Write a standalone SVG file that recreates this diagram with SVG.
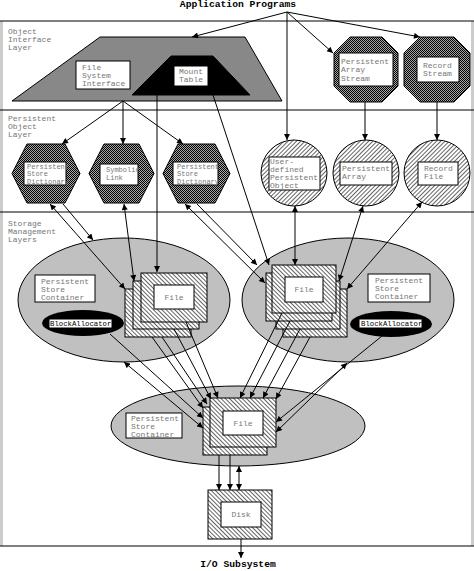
<svg xmlns="http://www.w3.org/2000/svg" width="474" height="571" viewBox="0 0 474 571">
<style>
text{font-family:"Liberation Mono","DejaVu Sans Mono",monospace;font-size:8px;fill:#777}
.b{fill:#000;font-weight:bold;font-size:9.7px}
.s{font-size:7px}
.k{fill:#000;font-size:7.3px}
.ln{stroke:#000;stroke-width:1;fill:none}
.wb{fill:#fff;stroke:#000;stroke-width:1}
.ch{fill:url(#check);stroke:#000;stroke-width:1}
.ht{fill:url(#hatchR);stroke:#000;stroke-width:1}
.hf{fill:url(#hatchL);stroke:#000;stroke-width:1}
.ell{fill:#c0c0c0;stroke:#000;stroke-width:1}
</style>
<defs>
<pattern id="check" width="2" height="2" patternUnits="userSpaceOnUse">
<rect width="2" height="2" fill="#a8a8a8"/>
<rect width="1" height="1" fill="#000"/>
<rect x="1" y="1" width="1" height="1" fill="#000"/>
</pattern>
<pattern id="hatchR" width="3" height="3" patternUnits="userSpaceOnUse" patternTransform="rotate(45)">
<rect width="3" height="3" fill="#fff"/>
<line x1="0.5" y1="0" x2="0.5" y2="3" stroke="#222" stroke-width="0.7"/>
</pattern>
<pattern id="hatchL" width="3" height="3" patternUnits="userSpaceOnUse" patternTransform="rotate(-45)">
<rect width="3" height="3" fill="#fff"/>
<line x1="0.5" y1="0" x2="0.5" y2="3" stroke="#222" stroke-width="0.7"/>
</pattern>
<marker id="ah" viewBox="0 0 10 10" refX="10" refY="5" markerWidth="7" markerHeight="6" markerUnits="userSpaceOnUse" orient="auto-start-reverse"><path d="M0,0 L10,5 L0,10 z" fill="#000"/></marker>
</defs>
<rect width="474" height="571" fill="#fff"/>

<g id="frame">
<line x1="1.5" y1="21" x2="1.5" y2="546" stroke="#ccc" stroke-width="3"/>
<line x1="472.5" y1="21" x2="472.5" y2="546" stroke="#ccc" stroke-width="3"/>
<line x1="0" y1="21" x2="474" y2="21" class="ln"/>
<line x1="0" y1="110" x2="474" y2="110" class="ln"/>
<line x1="0" y1="212" x2="474" y2="212" class="ln"/>
<line x1="0" y1="546" x2="474" y2="546" class="ln"/>
<text class="b" x="238" y="7" text-anchor="middle">Application Programs</text>
<text class="b" x="238" y="567" text-anchor="middle">I/O Subsystem</text>
<text x="8" y="34">Object</text><text x="8" y="42">Interface</text><text x="8" y="50">Layer</text>
<text x="8" y="121">Persistent</text><text x="8" y="129">Object</text><text x="8" y="137">Layer</text>
<text x="8" y="226">Storage</text><text x="8" y="234">Management</text><text x="8" y="242">Layers</text>
</g>

<g id="fsi">
<polygon points="100,37 245,37 282,101 12,101" fill="#888" stroke="#000"/>
<rect x="76" y="61" width="54" height="28" class="wb"/>
<text x="82" y="70">File</text><text x="82" y="78">System</text><text x="82" y="86">Interface</text>
</g>
<g id="mount">
<polygon points="171,56 213,56 250,95 132,95" fill="#000" stroke="#000"/>
<rect x="174" y="66" width="34" height="20" class="wb"/>
<text x="179" y="74">Mount</text><text x="179" y="82">Table</text>
</g>
<g id="pas">
<polygon points="350,37 382,37 398,53 398,86 382,102 350,102 334,86 334,53" class="ch"/>
<rect x="339" y="53" width="54" height="33" class="wb"/>
<text x="341" y="64">Persistent</text><text x="341" y="72">Array</text><text x="341" y="81">Stream</text>
</g>
<g id="rs">
<polygon points="420,37 454,37 470,53 470,86 454,102 420,102 404,86 404,53" class="ch"/>
<rect x="417" y="57" width="42" height="25" class="wb"/>
<text x="423" y="68">Record</text><text x="423" y="76">Stream</text>
</g>

<g id="psd1">
<polygon points="12,173.5 27,144 65,144 80,173.5 65,203 27,203" class="ch"/>
<rect x="24" y="162" width="42" height="23" class="wb"/>
<text class="s" x="27" y="169">Persistent</text><text class="s" x="27" y="176">Store</text><text class="s" x="27" y="184">Dictionary</text>
</g>
<g id="symlink">
<polygon points="89,173.5 104,144 139,144 154,173.5 139,203 104,203" class="ch"/>
<rect x="100" y="164" width="38" height="21" class="wb"/>
<text class="s" x="106" y="172">Symbolic</text><text class="s" x="106" y="180">Link</text>
</g>
<g id="psd2">
<polygon points="163,173.5 178,144 215,144 230,173.5 215,203 178,203" class="ch"/>
<rect x="173" y="162" width="45" height="23" class="wb"/>
<text class="s" x="177" y="169">Persistent</text><text class="s" x="177" y="176">Store</text><text class="s" x="177" y="184">Dictionary</text>
</g>
<g id="udpo">
<circle cx="294" cy="173" r="33" class="ht"/>
<rect x="269" y="157" width="51" height="33" class="wb"/>
<text x="270" y="164">User-</text><text x="270" y="172">defined</text><text x="270" y="180">Persistent</text><text x="270" y="188">Object</text>
</g>
<g id="pa">
<circle cx="366" cy="173" r="33" class="ht"/>
<rect x="340" y="162" width="52" height="23" class="wb"/>
<text x="342" y="171">Persistent</text><text x="342" y="179">Array</text>
</g>
<g id="rf">
<circle cx="437" cy="173" r="33" class="ht"/>
<rect x="418" y="162" width="40" height="23" class="wb"/>
<text x="424" y="171">Record</text><text x="424" y="179">File</text>
</g>

<g id="psc-left">
<ellipse cx="124" cy="300" rx="106" ry="62" class="ell"/>
<rect x="35" y="275" width="60" height="27" class="wb"/>
<text x="41" y="284">Persistent</text><text x="41" y="292">Store</text><text x="41" y="300">Container</text>
<ellipse cx="83" cy="323" rx="41" ry="13" fill="#000"/>
<rect x="49" y="319" width="63" height="9" class="wb"/>
<text class="k" x="50" y="326">BlockAllocator</text>
<rect x="125" y="289" width="66" height="48" class="hf"/>
<rect x="133" y="281" width="66" height="48" class="hf"/>
<rect x="141" y="273" width="66" height="49" class="hf"/>
<rect x="154" y="285" width="40" height="24" class="wb"/>
<text x="174" y="300" text-anchor="middle">File</text>
</g>
<g id="psc-right">
<ellipse cx="348" cy="300" rx="106" ry="62" class="ell"/>
<rect x="368" y="274" width="62" height="28" class="wb"/>
<text x="375" y="283">Persistent</text><text x="375" y="291">Store</text><text x="375" y="299">Container</text>
<ellipse cx="391" cy="324" rx="41" ry="13" fill="#000"/>
<rect x="359" y="319" width="63" height="9" class="wb"/>
<text class="k" x="361" y="326">BlockAllocator</text>
<rect x="283" y="289" width="64" height="48" class="hf"/>
<rect x="276" y="281" width="64" height="48" class="hf"/>
<rect x="266" y="273" width="66" height="48" class="hf"/>
<rect x="272" y="265" width="64" height="48" class="hf"/>
<rect x="285" y="277" width="38" height="25" class="wb"/>
<text x="304" y="292" text-anchor="middle">File</text>
</g>
<g id="psc-low">
<ellipse cx="238" cy="426" rx="127" ry="40" class="ell"/>
<rect x="126" y="413" width="56" height="25" class="wb"/>
<text x="131" y="421">Persistent</text><text x="131" y="429">Store</text><text x="131" y="437">Container</text>
<rect x="203" y="407" width="64" height="48" class="hf"/>
<rect x="210" y="398" width="66" height="49" class="hf"/>
<rect x="223" y="411" width="40" height="24" class="wb"/>
<text x="243" y="426" text-anchor="middle">File</text>
</g>
<g id="disk">
<rect x="208" y="490" width="64" height="49" class="hf"/>
<rect x="221" y="502" width="40" height="25" class="wb"/>
<text x="241" y="517" text-anchor="middle">Disk</text>
</g>

<g id="connectors" class="ln" marker-end="url(#ah)">
<line x1="287" y1="12" x2="192" y2="37"/>
<line x1="287" y1="12" x2="287" y2="140"/>
<line x1="287" y1="12" x2="333" y2="53"/>
<line x1="287" y1="12" x2="420" y2="37"/>
<line x1="123" y1="101" x2="62" y2="144"/>
<line x1="123" y1="101" x2="123" y2="144"/>
<line x1="123" y1="101" x2="183" y2="144"/>
<line x1="157" y1="95" x2="157" y2="272"/>
<line x1="213" y1="95" x2="269" y2="265"/>
<line x1="365" y1="102" x2="365" y2="140"/>
<line x1="437" y1="102" x2="437" y2="140"/>
<line x1="50" y1="204" x2="125" y2="289" marker-start="url(#ah)"/>
<line x1="63" y1="204" x2="93" y2="240"/>
<line x1="124" y1="204" x2="134" y2="281" marker-start="url(#ah)"/>
<line x1="185" y1="204" x2="265" y2="283" marker-start="url(#ah)"/>
<line x1="197" y1="204" x2="257" y2="265"/>
<line x1="295" y1="206" x2="295" y2="265" marker-start="url(#ah)"/>
<line x1="363" y1="206" x2="339" y2="281" marker-start="url(#ah)"/>
<line x1="422" y1="202" x2="347" y2="289" marker-start="url(#ah)"/>
<line x1="152" y1="337" x2="203" y2="408"/>
<line x1="162" y1="337" x2="207" y2="404"/>
<line x1="174" y1="329" x2="211" y2="399"/>
<line x1="186" y1="322" x2="218" y2="398"/>
<line x1="110" y1="334" x2="203" y2="418"/>
<line x1="124" y1="362" x2="203" y2="428" marker-start="url(#ah)"/>
<line x1="282" y1="313" x2="240" y2="398"/>
<line x1="290" y1="321" x2="250" y2="398"/>
<line x1="300" y1="329" x2="263" y2="398"/>
<line x1="310" y1="337" x2="276" y2="399"/>
<line x1="382" y1="336" x2="276" y2="422"/>
<line x1="347" y1="363" x2="276" y2="432" marker-start="url(#ah)"/>
<line x1="219" y1="455" x2="219" y2="490"/>
<line x1="230" y1="455" x2="230" y2="490"/>
<line x1="239" y1="466" x2="239" y2="490" marker-start="url(#ah)"/>
<line x1="241" y1="539" x2="241" y2="558"/>
</g>
</svg>
